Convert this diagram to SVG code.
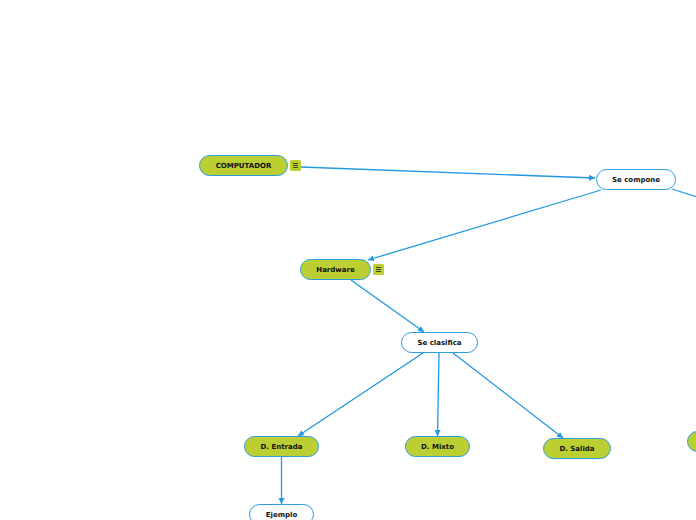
<svg xmlns="http://www.w3.org/2000/svg" width="696" height="520" viewBox="0 0 696 520">
<style>
.g{fill:#bbcf33;stroke:#2a9be0;stroke-width:1}
.w{fill:#ffffff;stroke:#2a9be0;stroke-width:1}
.t{font-family:"DejaVu Sans",Verdana,sans-serif;font-size:7px;font-weight:bold;fill:#111;text-anchor:middle}
.c{fill:none;stroke:#1f97e2;stroke-width:1.3}
.ic{fill:#bbcf33}
.il{stroke:#222;stroke-width:0.8}
</style>
<defs>
<marker id="a" markerWidth="8" markerHeight="8" refX="6" refY="3" orient="auto" markerUnits="userSpaceOnUse">
<path d="M0,0 L6,3 L0,6 z" fill="#1f97e2"/>
</marker>
<g id="icon">
<rect class="ic" x="0" y="0" width="11" height="11" rx="1.5"/>
<line class="il" x1="3" y1="3.5" x2="8" y2="3.5"/>
<line class="il" x1="3" y1="5.5" x2="8" y2="5.5"/>
<line class="il" x1="3" y1="7.5" x2="8" y2="7.5"/>
</g>
</defs>
<rect width="696" height="520" fill="#ffffff"/>
<g id="connectors">
<line class="c" x1="301" y1="167" x2="595" y2="178" marker-end="url(#a)"/>
<line class="c" x1="672" y1="189" x2="697" y2="197"/>
<line class="c" x1="601" y1="190" x2="368" y2="260" marker-end="url(#a)"/>
<line class="c" x1="351" y1="280" x2="424" y2="332" marker-end="url(#a)"/>
<line class="c" x1="423" y1="353" x2="298" y2="436" marker-end="url(#a)"/>
<line class="c" x1="439" y1="353" x2="437.5" y2="436" marker-end="url(#a)"/>
<line class="c" x1="453" y1="353" x2="563" y2="438" marker-end="url(#a)"/>
<line class="c" x1="281.5" y1="457" x2="281.5" y2="504" marker-end="url(#a)"/>
</g>
<g id="computador">
<rect class="g" x="199.5" y="155.5" width="88" height="20" rx="10"/>
<text class="t" x="243.5" y="168">COMPUTADOR</text>
<use href="#icon" x="290" y="160"/>
</g>
<g id="se-compone">
<rect class="w" x="596.5" y="169.5" width="79" height="20" rx="10"/>
<text class="t" x="636" y="182">Se compone</text>
</g>
<g id="hardware">
<rect class="g" x="300.5" y="259.5" width="70" height="20" rx="10"/>
<text class="t" x="335.5" y="272">Hardware</text>
<use href="#icon" x="373" y="264"/>
</g>
<g id="se-clasifica">
<rect class="w" x="401.5" y="332.5" width="76" height="20" rx="10"/>
<text class="t" x="439.5" y="345">Se clasifica</text>
</g>
<g id="d-entrada">
<rect class="g" x="244.5" y="436.5" width="74" height="20" rx="10"/>
<text class="t" x="281.5" y="449">D. Entrada</text>
</g>
<g id="d-mixto">
<rect class="g" x="405.5" y="436.5" width="64" height="20" rx="10"/>
<text class="t" x="437.5" y="449">D. Mixto</text>
</g>
<g id="d-salida">
<rect class="g" x="543.5" y="438.5" width="67" height="20" rx="10"/>
<text class="t" x="577" y="451">D. Salida</text>
</g>
<g id="partial-node">
<rect class="g" x="687.5" y="431.5" width="40" height="20" rx="10"/>
</g>
<g id="ejemplo">
<rect class="w" x="249.5" y="504.5" width="64" height="20" rx="10"/>
<text class="t" x="281.5" y="517">Ejemplo</text>
</g>
</svg>
